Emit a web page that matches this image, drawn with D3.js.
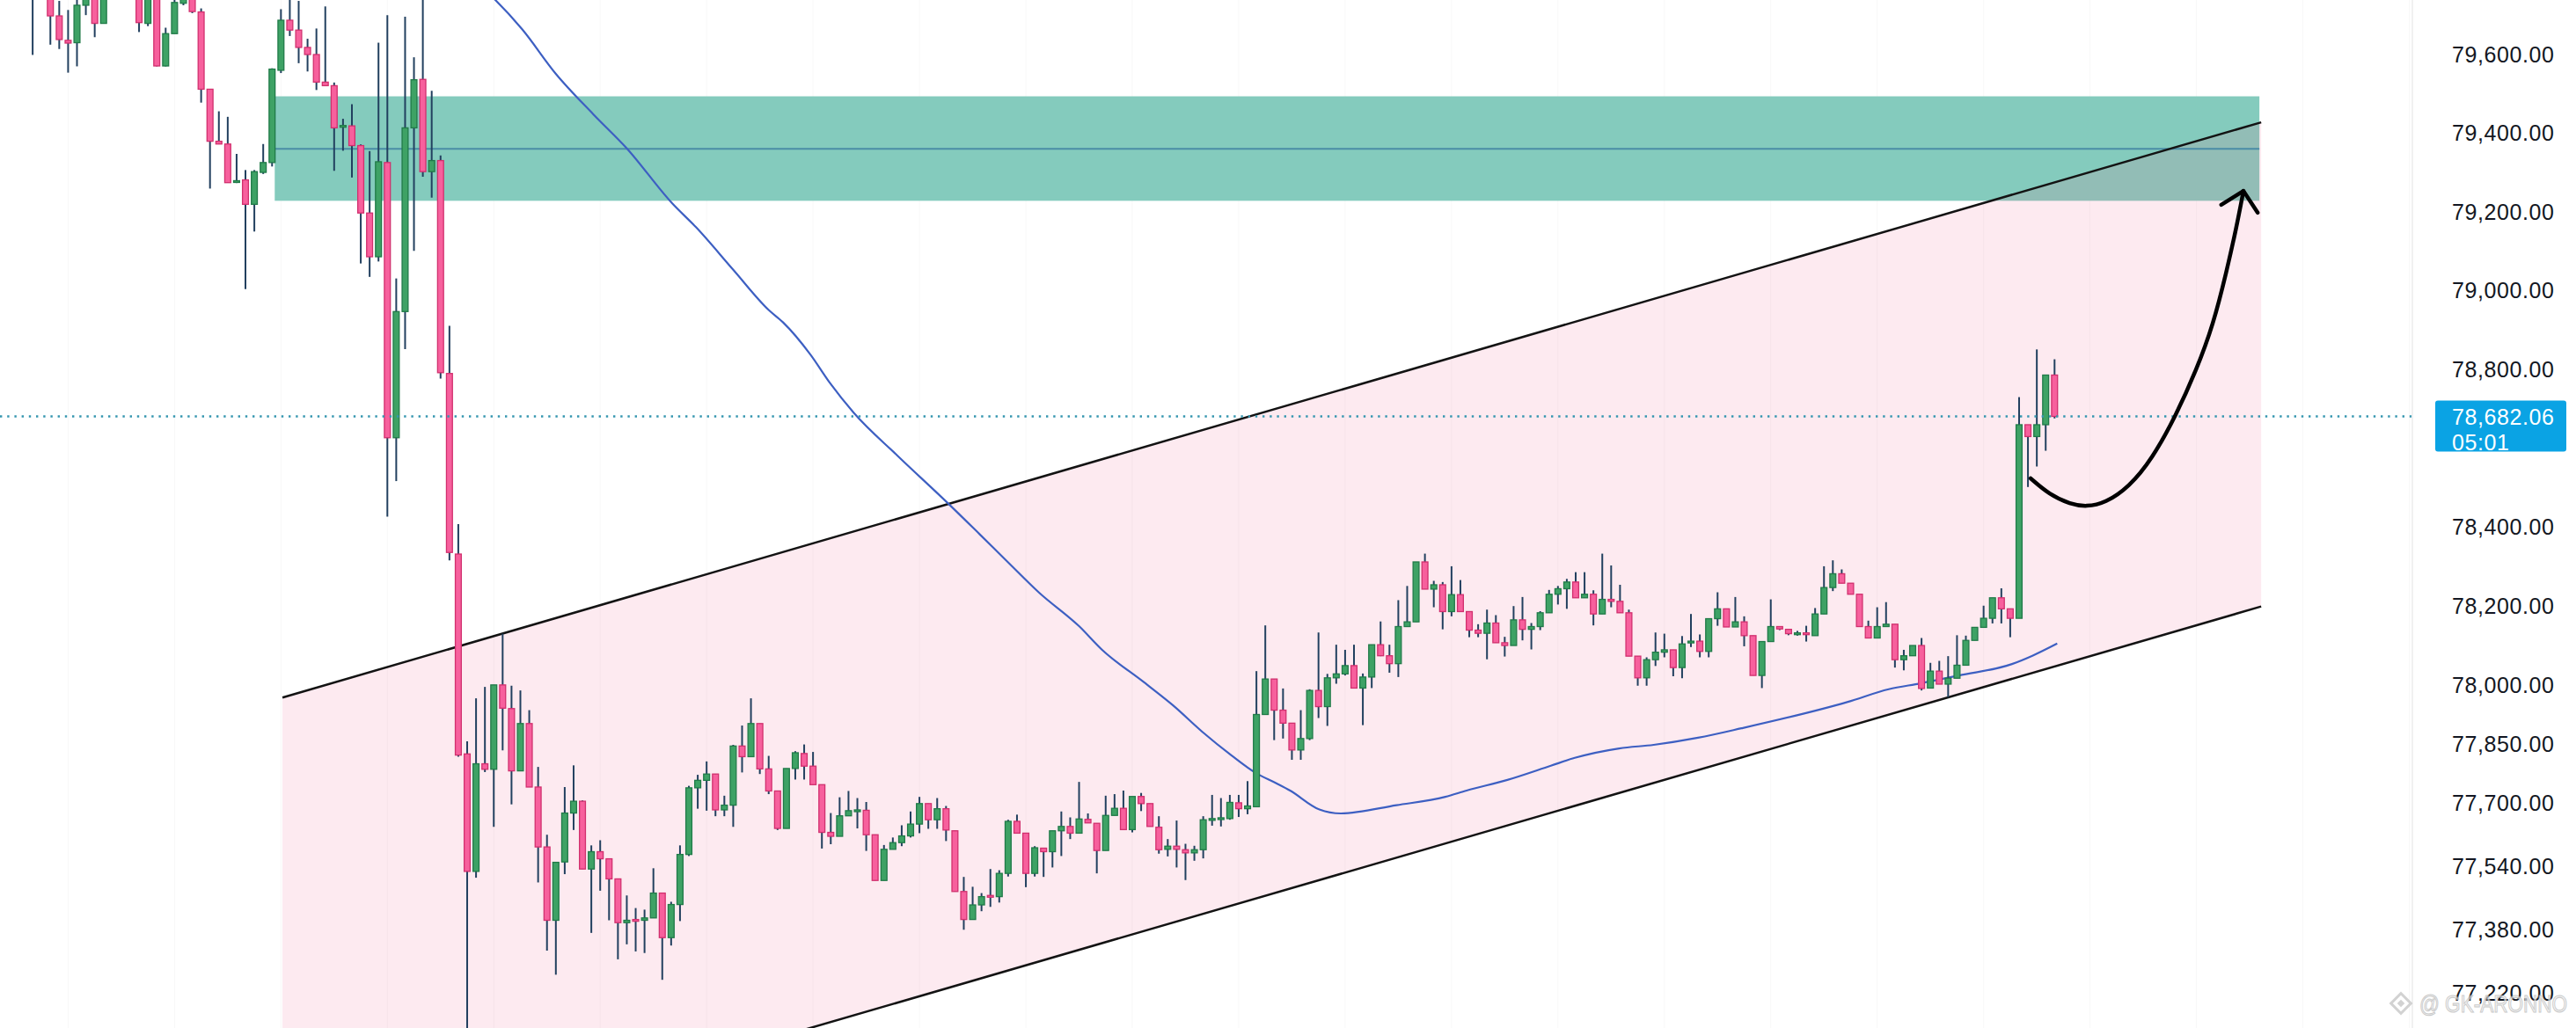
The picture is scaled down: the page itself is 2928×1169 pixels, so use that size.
<!DOCTYPE html>
<html>
<head>
<meta charset="utf-8">
<script src="https://cdnjs.cloudflare.com/ajax/libs/d3/7.8.5/d3.min.js"></script>
<style>
  html, body { margin: 0; padding: 0; background: #fff; overflow: hidden; }
  svg { display: block; }
</style>
</head>
<body>
<svg id="chart"></svg>
<script>
// candles, one value per bar (bar index = array position)
const opens = [
  79800, 79780, 79790, 79698, 79636, 79630, 79725, 79770, 79679, 79770,
  79800, 79790, 79780, 79679, 79760, 79571, 79653, 79730, 79770, 79708,
  79512, 79380, 79373, 79279, 79282, 79220, 79301, 79326, 79560, 79687,
  79662, 79618, 79600, 79530, 79521, 79418, 79419, 79369, 79198, 79087,
  79326, 78628, 78948, 79414, 79537, 79303, 79331, 78791, 78333, 77826,
  77528, 77801, 77787, 78001, 77941, 77783, 77903, 77742, 77590, 77404,
  77552, 77676, 77706, 77534, 77578, 77560, 77509, 77398, 77406, 77404,
  77410, 77473, 77360, 77444, 77571, 77740, 77759, 77775, 77684, 77696,
  77846, 77819, 77903, 77788, 77732, 77637, 77789, 77827, 77795, 77748,
  77627, 77617, 77669, 77682, 77683, 77621, 77505, 77584, 77601, 77618,
  77648, 77700, 77659, 77687, 77631, 77477, 77406, 77443, 77467, 77464,
  77523, 77655, 77625, 77523, 77587, 77578, 77631, 77642, 77625, 77660,
  77650, 77581, 77670, 77688, 77634, 77718, 77700, 77640, 77584, 77592,
  77583, 77575, 77583, 77660, 77662, 77662, 77702, 77687, 77692, 77926,
  78016, 77937, 77904, 77836, 77865, 77987, 77946, 78019, 78029, 78050,
  77993, 78021, 78103, 78075, 78055, 78149, 78161, 78313, 78244, 78255,
  78187, 78230, 78187, 78140, 78132, 78158, 78108, 78101, 78166, 78142,
  78149, 78184, 78231, 78245, 78262, 78222, 78231, 78181, 78218, 78213,
  78184, 78074, 78019, 78065, 78084, 78090, 78045, 78108, 78112, 78086,
  78169, 78194, 78148, 78161, 78126, 78025, 78111, 78149, 78142, 78131,
  78133, 78126, 78181, 78248, 78283, 78259, 78231, 78149, 78120, 78149,
  78155, 78065, 78075, 78101, 77993, 78036, 78003, 78018, 78051, 78114,
  78147, 78170, 78222, 78194, 78170, 78661, 78631, 78661, 78787
]
const highs = [
  79850, 79830, 79820, 79736, 79713, 79740, 79790, 79800, 79800, 79830,
  79850, 79820, 79810, 79790, 79790, 79668, 79750, 79780, 79790, 79717,
  79512, 79456, 79442, 79348, 79307, 79307, 79373, 79565, 79715, 79745,
  79736, 79640, 79666, 79722, 79529, 79437, 79474, 79372, 79355, 79630,
  79700, 79032, 79696, 79593, 79760, 79508, 79344, 78912, 78409, 77858,
  77967, 77996, 78001, 78131, 77999, 77987, 77937, 77793, 77621, 77551,
  77742, 77797, 77708, 77594, 77607, 77560, 77509, 77467, 77435, 77431,
  77536, 77473, 77451, 77594, 77745, 77773, 77807, 77775, 77720, 77849,
  77898, 77967, 77903, 77821, 77732, 77789, 77833, 77850, 77831, 77748,
  77676, 77716, 77732, 77714, 77704, 77621, 77595, 77614, 77645, 77680,
  77717, 77700, 77714, 77694, 77631, 77514, 77489, 77473, 77534, 77531,
  77659, 77672, 77625, 77592, 77587, 77631, 77680, 77665, 77755, 77675,
  77650, 77720, 77724, 77733, 77718, 77727, 77700, 77668, 77610, 77657,
  77598, 77593, 77668, 77722, 77714, 77722, 77722, 77757, 78036, 78152,
  78016, 77992, 77904, 77937, 77990, 78134, 78029, 78103, 78090, 78103,
  78030, 78103, 78162, 78103, 78216, 78252, 78313, 78334, 78265, 78262,
  78302, 78267, 78187, 78155, 78192, 78178, 78123, 78201, 78224, 78158,
  78188, 78242, 78252, 78270, 78287, 78287, 78241, 78334, 78304, 78255,
  78192, 78074, 78071, 78134, 78131, 78090, 78125, 78181, 78129, 78169,
  78236, 78194, 78224, 78175, 78126, 78111, 78218, 78149, 78142, 78138,
  78151, 78196, 78302, 78317, 78294, 78259, 78231, 78164, 78198, 78211,
  78155, 78090, 78101, 78120, 78057, 78062, 78074, 78127, 78126, 78147,
  78202, 78222, 78246, 78194, 78731, 78661, 78852, 78787, 78827
]
const lows = [
  79599, 79760, 79625, 79614, 79554, 79570, 79700, 79644, 79679, 79750,
  79760, 79750, 79657, 79672, 79570, 79570, 79653, 79725, 79705, 79478,
  79260, 79373, 79275, 79274, 79005, 79151, 79297, 79316, 79553, 79647,
  79578, 79557, 79510, 79521, 79305, 79356, 79288, 79070, 79036, 79075,
  78428, 78518, 78853, 79102, 79290, 79237, 78778, 78317, 77819, 77120,
  77512, 77780, 77641, 77835, 77698, 77783, 77742, 77500, 77327, 77266,
  77521, 77633, 77534, 77372, 77479, 77404, 77305, 77343, 77325, 77321,
  77410, 77253, 77340, 77402, 77567, 77687, 77682, 77668, 77668, 77641,
  77779, 77819, 77775, 77724, 77633, 77637, 77761, 77761, 77748, 77586,
  77597, 77617, 77669, 77637, 77580, 77505, 77505, 77584, 77592, 77614,
  77625, 77636, 77636, 77605, 77477, 77380, 77406, 77427, 77438, 77449,
  77515, 77625, 77488, 77515, 77514, 77538, 77567, 77610, 77625, 77651,
  77523, 77581, 77670, 77634, 77627, 77681, 77642, 77573, 77566, 77538,
  77506, 77555, 77561, 77644, 77642, 77659, 77666, 77673, 77692, 77926,
  77861, 77865, 77811, 77811, 77861, 77917, 77897, 78004, 78025, 77993,
  77899, 77993, 78074, 78032, 78021, 78149, 78161, 78244, 78198, 78142,
  78175, 78187, 78122, 78122, 78066, 78108, 78073, 78101, 78114, 78091,
  78140, 78184, 78205, 78194, 78222, 78222, 78152, 78181, 78198, 78184,
  78074, 77999, 77999, 78049, 78071, 78023, 78018, 78097, 78071, 78071,
  78151, 78148, 78148, 78099, 78025, 77993, 78111, 78140, 78127, 78126,
  78111, 78126, 78181, 78239, 78259, 78231, 78149, 78120, 78120, 78149,
  78045, 78038, 78075, 77987, 77993, 78003, 77970, 78018, 78051, 78114,
  78147, 78157, 78157, 78122, 78170, 78503, 78555, 78595, 78677
]
const closes = [
  79760, 79800, 79698, 79638, 79629, 79725, 79760, 79679, 79770, 79800,
  79790, 79780, 79681, 79760, 79571, 79653, 79732, 79760, 79709, 79512,
  79380, 79373, 79275, 79280, 79220, 79303, 79326, 79563, 79687, 79662,
  79618, 79600, 79530, 79521, 79414, 79420, 79369, 79198, 79087, 79328,
  78628, 78948, 79414, 79536, 79303, 79331, 78793, 78337, 77823, 77528,
  77801, 77787, 78001, 77942, 77783, 77903, 77742, 77590, 77404, 77551,
  77676, 77706, 77534, 77578, 77560, 77509, 77398, 77404, 77404, 77410,
  77473, 77360, 77444, 77571, 77740, 77759, 77775, 77684, 77696, 77846,
  77819, 77903, 77788, 77732, 77637, 77789, 77829, 77795, 77748, 77627,
  77617, 77669, 77682, 77684, 77621, 77505, 77584, 77601, 77618, 77648,
  77700, 77659, 77687, 77633, 77477, 77406, 77443, 77464, 77464, 77523,
  77655, 77625, 77523, 77588, 77578, 77631, 77642, 77625, 77661, 77651,
  77581, 77670, 77688, 77634, 77718, 77700, 77642, 77583, 77592, 77584,
  77575, 77583, 77659, 77662, 77664, 77703, 77687, 77694, 77926, 78016,
  77937, 77904, 77836, 77865, 77987, 77946, 78019, 78029, 78050, 77993,
  78021, 78103, 78075, 78055, 78149, 78161, 78313, 78244, 78255, 78187,
  78230, 78187, 78140, 78132, 78158, 78108, 78101, 78166, 78142, 78149,
  78184, 78231, 78245, 78262, 78222, 78231, 78181, 78218, 78213, 78184,
  78074, 78019, 78065, 78084, 78090, 78045, 78105, 78112, 78086, 78169,
  78194, 78148, 78161, 78126, 78025, 78111, 78149, 78143, 78131, 78133,
  78131, 78181, 78248, 78283, 78259, 78231, 78149, 78120, 78149, 78155,
  78065, 78075, 78101, 77992, 78036, 78003, 78018, 78051, 78114, 78147,
  78170, 78222, 78194, 78170, 78661, 78631, 78661, 78787, 78682.06
]

// moving average line at these bar positions
const maIndex = [49.9, 52.1, 55.2, 59.0, 63.2, 67.0, 72.1, 74.8, 79.0, 83.0, 84.6, 87.7,
  89.9, 92.6, 97.5, 103.3, 106.8, 110.0, 113.5, 118.0, 120.6, 125.3, 128.6, 131.9,
  135.2, 137.9, 140.2, 141.8, 145.1, 147.5, 153.8, 159.3, 161.7, 166.3, 171.2, 173.9,
  178.9, 182.8, 187.8, 192.7, 204.7, 209.3, 212.9, 217.2, 223.2, 225.5, 228.3]
const maValue = [79785, 79740, 79664, 79551, 79449, 79362, 79223, 79162, 79054, 78952, 78921, 78839,
  78767, 78691, 78583, 78460, 78383, 78312, 78235, 78150, 78090, 78008, 77949, 77882,
  77822, 77778, 77752, 77733, 77685, 77675, 77696, 77717, 77733, 77760, 77796, 77816,
  77840, 77849, 77867, 77891, 77958, 77990, 78005, 78025, 78054, 78075, 78106]

const priceTicks = [79600, 79400, 79200, 79000, 78800, 78400, 78200, 78000, 77850, 77700, 77540, 77380, 77220]
const lastPrice = 78682.06
const countdown = "05:01"

// drawings
const zoneSpan = [27.3, 251.1]
const zonePrices = [79494, 79229]
const zoneMid = 79361
const channelSpan = [28.17, 251.3]
const channelUpper = [77969, 79428]
const channelLower = [76742, 78200]
const arrowIndex = [225.3, 227.4, 229.8, 231.6, 233.7, 236.4, 239.0, 241.7, 244.0, 245.9, 247.4, 248.5, 249.3]
const arrowPrice = [78525, 78484, 78459, 78453, 78462, 78503, 78574, 78685, 78800, 78915, 79050, 79160, 79254]
const arrowHeadIndex = [246.8, 249.3, 250.9]
const arrowHeadPrice = [79219, 79254, 79199]

const W = 2928, H = 1169
const axisX = 2742

const svg = d3.select("#chart").attr("width", W).attr("height", H)
svg.append("rect").attr("width", W).attr("height", H).attr("fill", "#ffffff")

const x = d3.scaleLinear().domain([0, 228]).range([37.1, 2335.3])
const y = d3.scaleLinear().domain([79600, 77220]).range([62, 1129])

svg.append("clipPath").attr("id", "plot")
  .append("rect").attr("width", axisX).attr("height", H)

const plot = svg.append("g").attr("clip-path", "url(#plot)")

// faint vertical grid
plot.append("g").selectAll("line")
  .data(d3.range(4, 272, 12))
  .join("line")
    .attr("x1", d => x(d)).attr("x2", d => x(d))
    .attr("y1", 0).attr("y2", H)
    .attr("stroke", "#000").attr("stroke-opacity", 0.03)

// supply zone
plot.append("rect")
  .attr("x", x(zoneSpan[0]))
  .attr("width", x(zoneSpan[1]) - x(zoneSpan[0]))
  .attr("y", y(zonePrices[0]))
  .attr("height", y(zonePrices[1]) - y(zonePrices[0]))
  .attr("fill", "#84cbbd")

// channel background
const channelPoly = [
  [channelSpan[0], channelUpper[0]], [channelSpan[1], channelUpper[1]],
  [channelSpan[1], channelLower[1]], [channelSpan[0], channelLower[0]]
]
plot.append("polygon")
  .attr("points", channelPoly.map(p => [x(p[0]), y(p[1])].join(",")).join(" "))
  .attr("fill", "#f06292").attr("fill-opacity", 0.133)

plot.append("line")
  .attr("x1", x(zoneSpan[0])).attr("x2", x(zoneSpan[1]))
  .attr("y1", y(zoneMid)).attr("y2", y(zoneMid))
  .attr("stroke", "#4a8ca6").attr("stroke-width", 2)

// channel borders
;[channelUpper, channelLower].forEach(ends => {
  plot.append("line")
    .attr("x1", x(channelSpan[0])).attr("y1", y(ends[0]))
    .attr("x2", x(channelSpan[1])).attr("y2", y(ends[1]))
    .attr("stroke", "#131313").attr("stroke-width", 2.5)
})

// moving average
const maLine = d3.line()
  .x(d => x(d[0])).y(d => y(d[1]))
  .curve(d3.curveMonotoneX)
plot.append("path")
  .attr("d", maLine(d3.zip(maIndex, maValue)))
  .attr("fill", "none").attr("stroke", "#3d5fc2").attr("stroke-width", 2.2)

// candles
const bars = d3.range(opens.length)
const up = i => closes[i] >= opens[i]
const cg = plot.append("g")
cg.selectAll("line")
  .data(bars)
  .join("line")
    .attr("x1", i => x(i)).attr("x2", i => x(i))
    .attr("y1", i => y(highs[i])).attr("y2", i => y(lows[i]))
    .attr("stroke", "#22405f").attr("stroke-width", 2)

const bodyW = 6.8
cg.selectAll("rect")
  .data(bars)
  .join("rect")
    .attr("x", i => x(i) - bodyW / 2)
    .attr("width", bodyW)
    .attr("y", i => y(Math.max(opens[i], closes[i])))
    .attr("height", i => Math.max(2, Math.abs(y(opens[i]) - y(closes[i]))))
    .attr("fill", i => up(i) ? "#3ea265" : "#f7609d")
    .attr("stroke", i => up(i) ? "#207a48" : "#d1306e")
    .attr("stroke-width", 1.3)

// last price line
plot.append("line")
  .attr("x1", 0).attr("x2", axisX)
  .attr("y1", y(lastPrice)).attr("y2", y(lastPrice))
  .attr("stroke", "#3596b0").attr("stroke-width", 2.4)
  .attr("stroke-dasharray", "2.4 5.8")

// projected path arrow
const arrowLine = d3.line()
  .x(d => x(d[0])).y(d => y(d[1]))
  .curve(d3.curveBasis)
plot.append("path")
  .attr("d", arrowLine(d3.zip(arrowIndex, arrowPrice)))
  .attr("fill", "none").attr("stroke", "#000").attr("stroke-width", 4.5)
  .attr("stroke-linecap", "round")
plot.append("path")
  .attr("d", d3.line().x(d => x(d[0])).y(d => y(d[1]))(d3.zip(arrowHeadIndex, arrowHeadPrice)))
  .attr("fill", "none").attr("stroke", "#000").attr("stroke-width", 4.5)
  .attr("stroke-linecap", "round").attr("stroke-linejoin", "round")

// price axis
svg.append("line")
  .attr("x1", axisX).attr("x2", axisX).attr("y1", 0).attr("y2", H)
  .attr("stroke", "#ededed").attr("stroke-width", 1.5)

const fmt = d3.format(",.2f")
const axis = svg.append("g")
  .attr("transform", `translate(${axisX},0)`)
  .call(d3.axisRight(y).tickValues(priceTicks).tickSize(0).tickPadding(45).tickFormat(fmt))
axis.select(".domain").remove()
axis.selectAll("text")
  .attr("fill", "#131722")
  .style("font-family", "'Liberation Sans', Arial, sans-serif")
  .style("font-size", "25px")
  .style("letter-spacing", "0.6px")

// current price badge
const yl = y(lastPrice)
const badge = svg.append("g")
badge.append("rect")
  .attr("x", 2768).attr("y", yl - 18).attr("width", 149).attr("height", 58)
  .attr("rx", 3).attr("fill", "#0aa3e4")
badge.selectAll("text")
  .data([fmt(lastPrice), countdown])
  .join("text")
    .attr("x", 2787).attr("y", (d, i) => yl + 9 + i * 29)
    .attr("fill", "#ffffff")
    .style("font-family", "'Liberation Sans', Arial, sans-serif")
    .style("font-size", "25px")
    .style("letter-spacing", "0.6px")
    .text(d => d)

// watermark
const wm = svg.append("g").attr("opacity", 0.75)
const lg = wm.append("g").attr("transform", "translate(2729,1141)")
lg.append("rect").attr("x", -8).attr("y", -8).attr("width", 16).attr("height", 16)
  .attr("transform", "rotate(45)").attr("fill", "none").attr("stroke", "#c4c4c4").attr("stroke-width", 3)
lg.append("rect").attr("x", -3).attr("y", -3).attr("width", 6).attr("height", 6)
  .attr("transform", "rotate(45)").attr("fill", "#c4c4c4")
wm.append("text")
  .attr("x", 2750).attr("y", 1151)
  .attr("textLength", 168).attr("lengthAdjust", "spacingAndGlyphs")
  .attr("fill", "#f4f4f4").attr("stroke", "#b9b9b9").attr("stroke-width", 1.1)
  .style("font-family", "'Liberation Sans', Arial, sans-serif")
  .style("font-size", "28px")
  .text("@ GK-ARONNO")
</script>
</body>
</html>
